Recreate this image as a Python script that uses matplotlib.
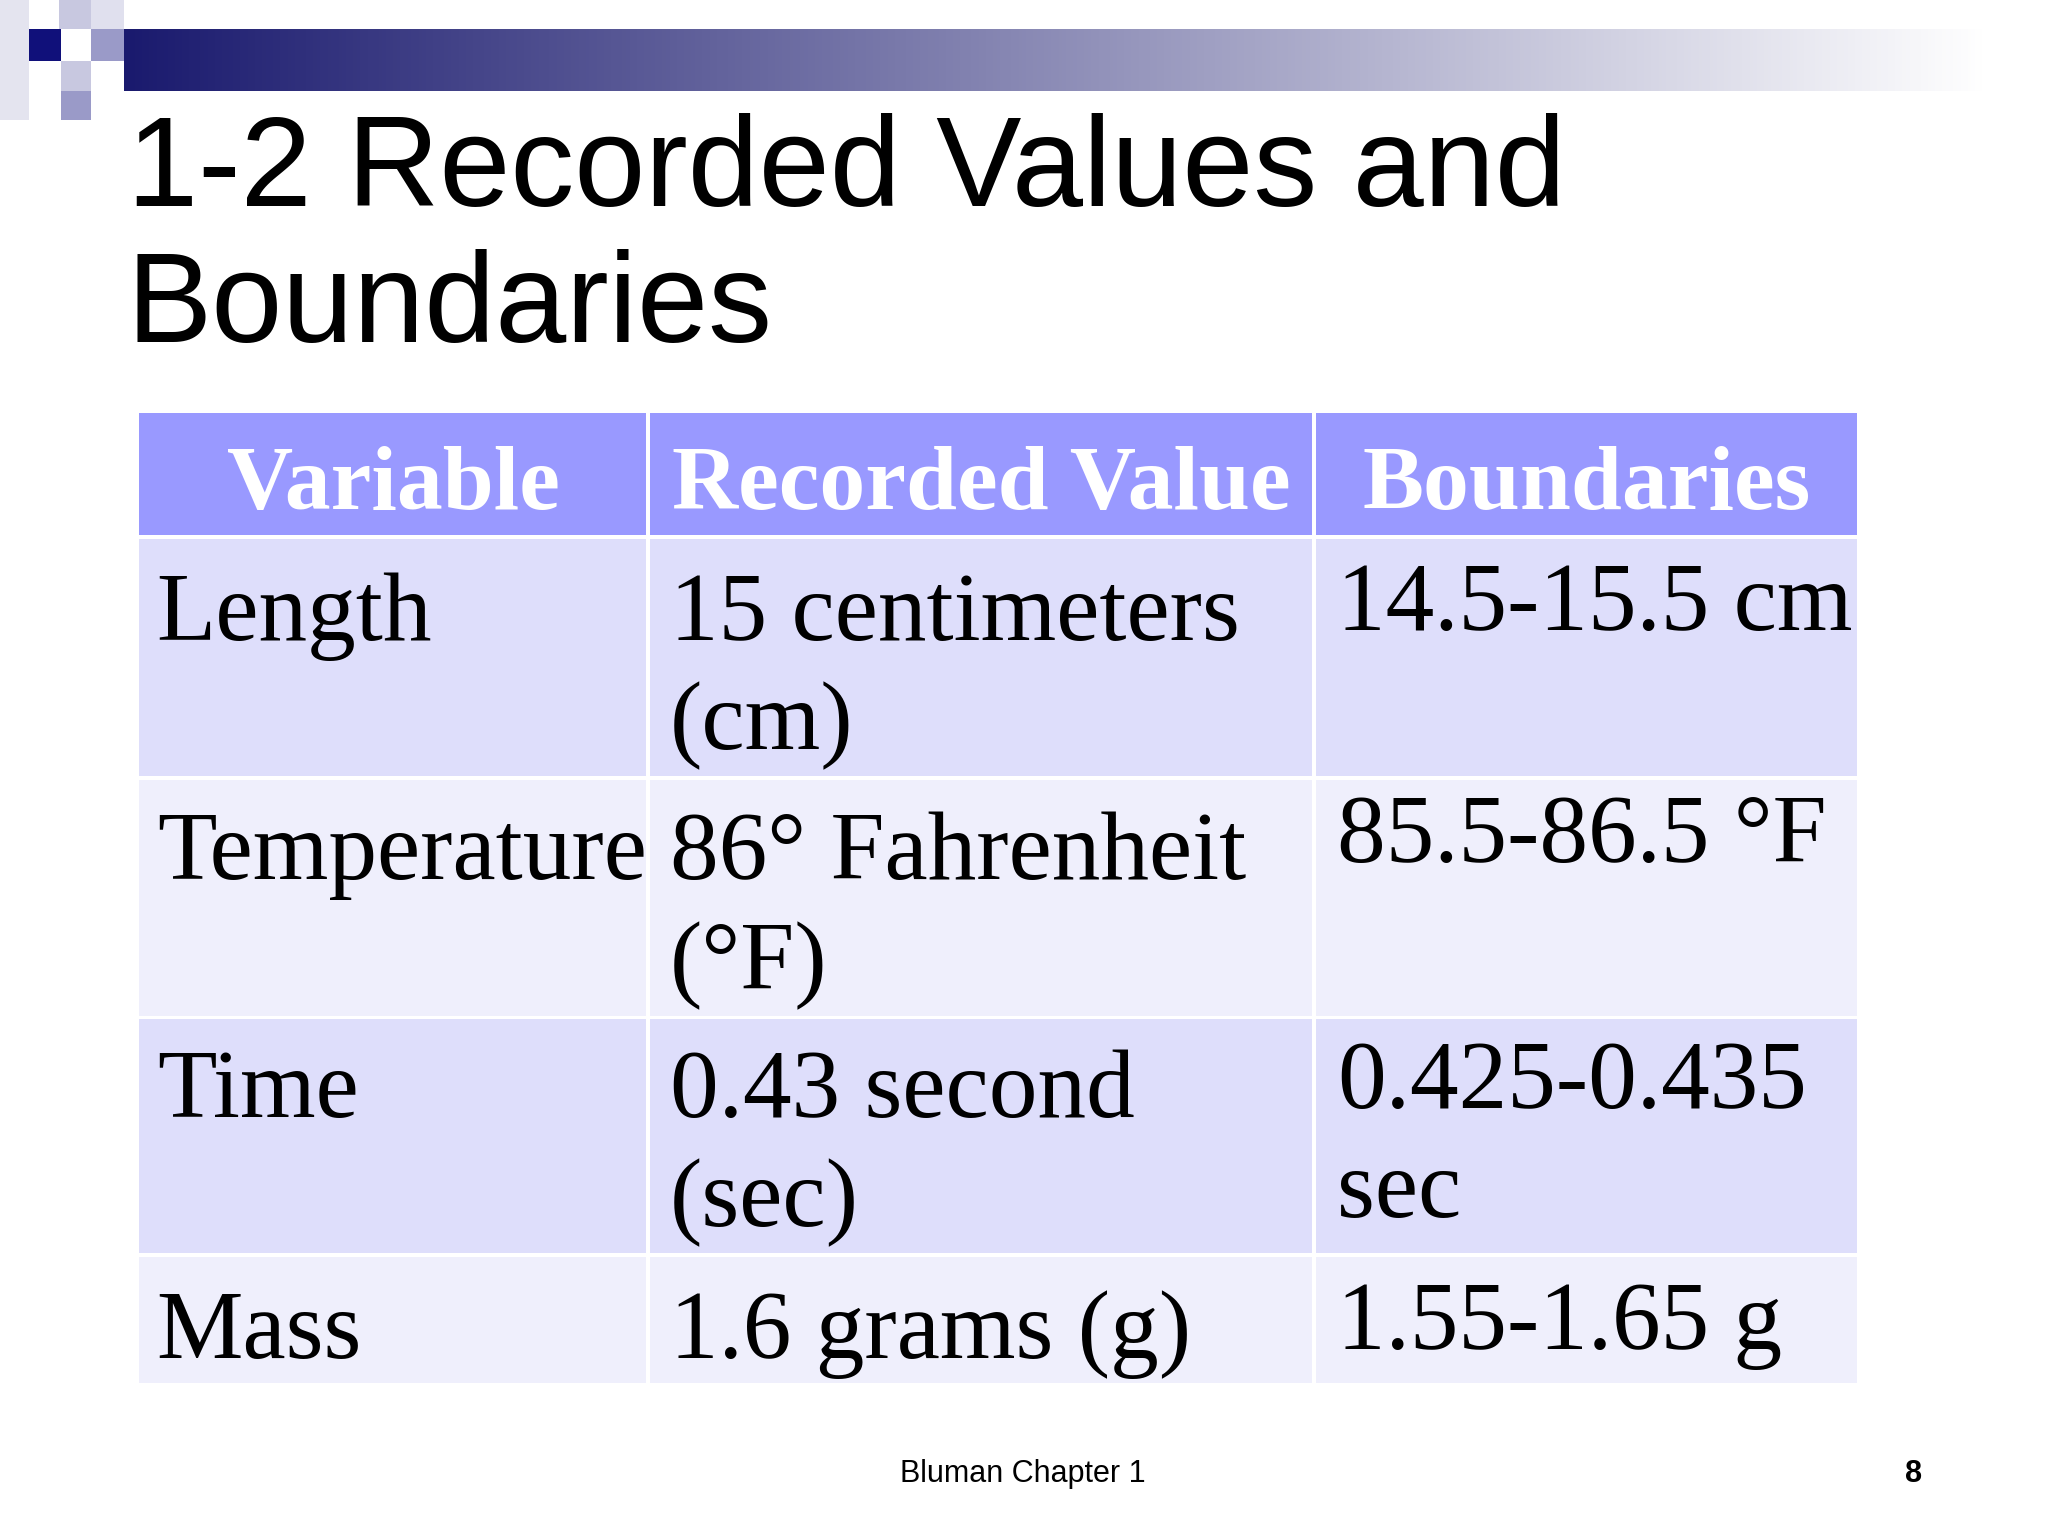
import matplotlib
matplotlib.use("Agg")
import matplotlib.pyplot as plt
import numpy as np
from matplotlib.patches import Rectangle

headers = ["Variable", "Recorded Value", "Boundaries"]
variables = ["Length", "Temperature", "Time", "Mass"]
recorded = [["15 centimeters", "(cm)"], ["86° Fahrenheit", "(°F)"], ["0.43 second", "(sec)"], ["1.6 grams (g)"]]
boundaries = [["14.5-15.5 cm"], ["85.5-86.5 °F"], ["0.425-0.435", "sec"], ["1.55-1.65 g"]]

W, H = 1568.0, 1176.0
fig = plt.figure(figsize=(20.48, 15.36), dpi=100)
fig.patch.set_facecolor("white")
def X(x): return x / W
def Y(y): return 1 - y / H
def rect(x0, y0, x1, y1, color, **kw):
    fig.patches.append(Rectangle((X(x0), Y(y1)), X(x1) - X(x0), Y(y0) - Y(y1),
                                 transform=fig.transFigure, facecolor=color, edgecolor="none", **kw))

# top gradient bar
ax_bar = fig.add_axes([X(95), Y(70), X(1520) - X(95), Y(22) - Y(70)])
ax_bar.axis("off")
grad = np.linspace(0, 1, 512)[None, :]
c0 = np.array([0x1a, 0x1a, 0x6e]) / 255
cols = (c0[None, None, :] * (1 - grad[..., None]) + np.ones(3)[None, None, :] * grad[..., None])
ax_bar.imshow(cols, aspect="auto", extent=[0, 1, 0, 1])
# decorative squares
rect(0, 0, 22, 92, "#e4e4ef")
rect(45, 0, 70, 22, "#c8c8e0")
rect(70, 0, 95, 22, "#e0e0ee")
rect(22, 22, 47, 47, "#10107a")
rect(70, 22, 95, 47, "#9a9ac8")
rect(47, 47, 70, 70, "#c8c8e0")
rect(47, 70, 70, 92, "#9a9ac8")

# title
fig.text(X(97), Y(158), "1-2 Recorded Values and", fontsize=92, family="Liberation Sans", va="baseline")
fig.text(X(97), Y(262), "Boundaries", fontsize=92, family="Liberation Sans", va="baseline")

# table
colx = [105, 496, 1006, 1423]
rowy = [315, 411, 596, 779, 961, 1060]
rowcol = ["#9999ff", "#dedefb", "#efeffc", "#dedefb", "#efeffc"]
g = 1.5
for r in range(5):
    for c in range(3):
        rect(colx[c] + g, rowy[r] + g, colx[c + 1] - g, rowy[r + 1] - g, rowcol[r])

serif = "Liberation Serif"
hx = [301, 751, 1215]
for h, x in zip(headers, hx):
    fig.text(X(x), Y(390), h, fontsize=66, family=serif, weight="bold", color="white",
             ha="center", va="baseline")

vb = [490, 673, 855, 1040]
bb = [482, 660, 848, 1033]
lh = 84
for i in range(4):
    fig.text(X(120), Y(vb[i]), variables[i], fontsize=70, family=serif, va="baseline")
    for j, line in enumerate(recorded[i]):
        fig.text(X(513), Y(vb[i] + j * lh), line, fontsize=70, family=serif, va="baseline")
    for j, line in enumerate(boundaries[i]):
        fig.text(X(1024), Y(bb[i] + j * lh), line, fontsize=70, family=serif, va="baseline")

fig.text(X(783), Y(1135), "Bluman Chapter 1", fontsize=22, family="Liberation Sans", ha="center", va="baseline")
fig.text(X(1465), Y(1135), "8", fontsize=22, family="Liberation Sans", weight="bold", ha="center", va="baseline")

fig.savefig("out.png", dpi=100)
